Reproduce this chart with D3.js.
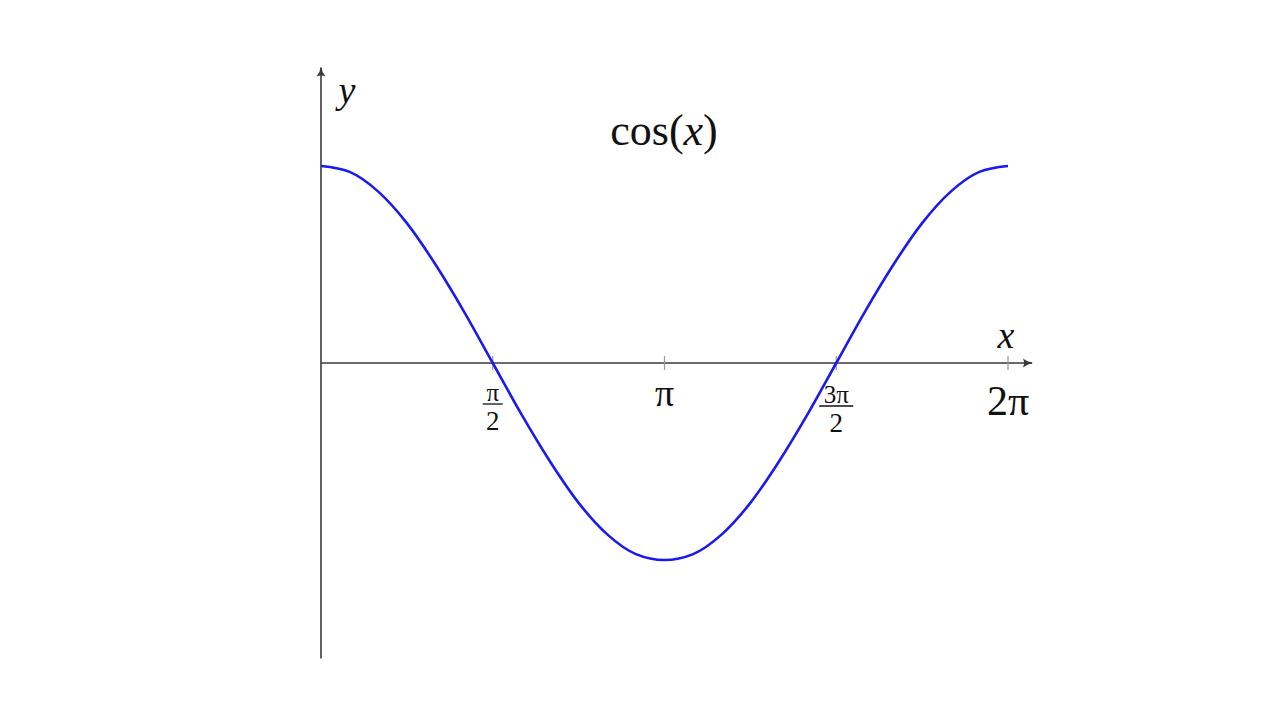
<!DOCTYPE html>
<html>
<head>
<meta charset="utf-8">
<script src="https://cdn.jsdelivr.net/npm/d3@7"></script>
<style>
  html, body { margin: 0; padding: 0; background: #fff; }
</style>
</head>
<body>
<div id="chart"></div>
<script>
// x positions in multiples of pi, y values
const curveX = [0, 0.0833, 0.1667, 0.25, 0.3333, 0.4167, 0.5, 0.5833, 0.6667, 0.75, 0.8333, 0.9167, 1,
                1.0833, 1.1667, 1.25, 1.3333, 1.4167, 1.5, 1.5833, 1.6667, 1.75, 1.8333, 1.9167, 2];
const curveY = [1.00, 0.97, 0.87, 0.71, 0.50, 0.26, 0.00, -0.26, -0.50, -0.71, -0.87, -0.97, -1.00,
                -0.97, -0.87, -0.71, -0.50, -0.26, 0.00, 0.26, 0.50, 0.71, 0.87, 0.97, 1.00];
// tick positions (multiples of pi) and their labels: [numerator, denominator]
const tickValues = [0.5, 1, 1.5, 2];
const tickLabels = [['π', '2'], ['π', null], ['3π', '2'], ['2π', null]];

const width = 1280, height = 720;
const serif = "'Liberation Serif', 'DejaVu Serif', serif";

const svg = d3.select('#chart').append('svg')
    .attr('width', width)
    .attr('height', height)
    .attr('font-family', serif);

const x = d3.scaleLinear().domain([0, 2]).range([321, 1008]);
const y = d3.scaleLinear().domain([-1, 1]).range([560, 166]);

const axisColor = '#3a3a3a';

// arrow head
svg.append('defs').append('marker')
    .attr('id', 'arrow')
    .attr('viewBox', '0 0 10 10')
    .attr('refX', 9).attr('refY', 5)
    .attr('markerWidth', 10).attr('markerHeight', 10)
    .attr('markerUnits', 'userSpaceOnUse')
    .attr('orient', 'auto')
  .append('path')
    .attr('d', 'M0,0.5 Q4,4 10,5 Q4,6 0,9.5 Q2,5 0,0.5 Z')
    .attr('fill', axisColor);

// x axis
svg.append('line')
    .attr('x1', x(0)).attr('y1', y(0))
    .attr('x2', x(2) + 24).attr('y2', y(0))
    .attr('stroke', axisColor).attr('stroke-width', 1.6)
    .attr('marker-end', 'url(#arrow)');

// y axis
svg.append('line')
    .attr('x1', x(0)).attr('y1', y(-1.5))
    .attr('x2', x(0)).attr('y2', y(1.5))
    .attr('stroke', axisColor).attr('stroke-width', 1.6)
    .attr('marker-end', 'url(#arrow)');

// ticks
svg.append('g').selectAll('line')
    .data(tickValues)
    .enter()
    .append('line')
    .attr('x1', d => x(d)).attr('x2', d => x(d))
    .attr('y1', y(0) - 7).attr('y2', y(0) + 7)
    .attr('stroke', '#999').attr('stroke-width', 1.2);

// tick labels
const labels = svg.append('g').attr('fill', '#111').attr('font-family', serif);
tickValues.forEach((v, i) => {
    const [num, den] = tickLabels[i];
    const cx = x(v);
    if (den) {
        const top = i === 2 ? 406 : 404;
        labels.append('text')
            .attr('x', cx).attr('y', top - 3)
            .attr('text-anchor', 'middle')
            .attr('font-size', 25)
            .text(num);
        labels.append('line')
            .attr('x1', cx - (num.length > 1 ? 17 : 10)).attr('x2', cx + (num.length > 1 ? 17 : 10))
            .attr('y1', top).attr('y2', top)
            .attr('stroke', '#111').attr('stroke-width', 1.3);
        labels.append('text')
            .attr('x', cx).attr('y', top + 26)
            .attr('text-anchor', 'middle')
            .attr('font-size', 27)
            .text(den);
    } else {
        labels.append('text')
            .attr('x', cx).attr('y', i === 3 ? 415 : 406)
            .attr('text-anchor', 'middle')
            .attr('font-size', i === 3 ? 42 : 38)
            .text(num);
    }
});

// axis names
svg.append('text')
    .attr('x', 347).attr('y', 103)
    .attr('text-anchor', 'middle')
    .attr('font-family', serif)
    .attr('font-size', 38).attr('font-style', 'italic')
    .attr('fill', '#111')
    .text('y');
svg.append('text')
    .attr('x', 1006).attr('y', 348)
    .attr('text-anchor', 'middle')
    .attr('font-family', serif)
    .attr('font-size', 38).attr('font-style', 'italic')
    .attr('fill', '#111')
    .text('x');

// title
const t = svg.append('text')
    .attr('x', 664).attr('y', 145)
    .attr('text-anchor', 'middle')
    .attr('font-family', serif)
    .attr('font-size', 44)
    .attr('fill', '#111');
t.append('tspan').text('cos(');
t.append('tspan').attr('font-style', 'italic').text('x');
t.append('tspan').text(')');

// curve
const points = curveX.map((d, i) => [d, curveY[i]]);
const line = d3.line()
    .x(d => x(d[0]))
    .y(d => y(d[1]))
    .curve(d3.curveMonotoneX);

svg.append('path')
    .datum(points)
    .attr('d', line)
    .attr('fill', 'none')
    .attr('stroke', '#1a1aee')
    .attr('stroke-width', 2.6);
</script>
</body>
</html>
